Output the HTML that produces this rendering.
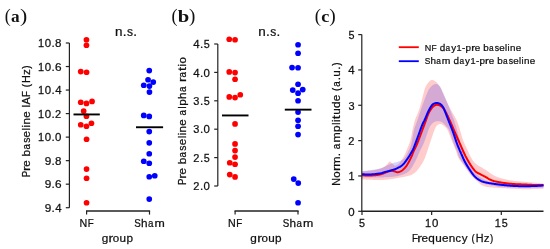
<!DOCTYPE html>
<html><head><meta charset="utf-8"><style>
html,body{margin:0;padding:0;background:#fff;}
svg{display:block;will-change:transform;}
</style></head><body>
<svg width="550" height="249" viewBox="0 0 550 249">
<rect width="550" height="249" fill="#fff"/>
<path d="M69.4,43.0 V207.71" stroke="#222222" stroke-width="1.2" fill="none"/>
<path d="M65.80,43.00 H69.4" stroke="#222222" stroke-width="1.2"/>
<g font-family='"Liberation Sans", sans-serif' font-size="11.5" fill="#111111" stroke="#111111" stroke-width="0.25"><text transform="translate(41.14,47.20) scale(0.950,1)" x="-3.36">1</text><text transform="translate(47.94,47.20) scale(0.995,1)" x="-3.20">0</text><text transform="translate(53.12,47.20) scale(1.021,1)" x="-1.60">.</text><text transform="translate(58.30,47.20) scale(1.005,1)" x="-3.20">8</text></g>
<path d="M65.80,66.53 H69.4" stroke="#222222" stroke-width="1.2"/>
<g font-family='"Liberation Sans", sans-serif' font-size="11.5" fill="#111111" stroke="#111111" stroke-width="0.25"><text transform="translate(41.14,70.73) scale(0.950,1)" x="-3.36">1</text><text transform="translate(47.94,70.73) scale(0.995,1)" x="-3.20">0</text><text transform="translate(53.12,70.73) scale(1.021,1)" x="-1.60">.</text><text transform="translate(58.34,70.73) scale(1.029,1)" x="-3.24">6</text></g>
<path d="M65.80,90.06 H69.4" stroke="#222222" stroke-width="1.2"/>
<g font-family='"Liberation Sans", sans-serif' font-size="11.5" fill="#111111" stroke="#111111" stroke-width="0.25"><text transform="translate(41.14,94.26) scale(0.950,1)" x="-3.36">1</text><text transform="translate(47.94,94.26) scale(0.995,1)" x="-3.20">0</text><text transform="translate(53.12,94.26) scale(1.021,1)" x="-1.60">.</text><text transform="translate(58.26,94.26) scale(0.995,1)" x="-3.16">4</text></g>
<path d="M65.80,113.59 H69.4" stroke="#222222" stroke-width="1.2"/>
<g font-family='"Liberation Sans", sans-serif' font-size="11.5" fill="#111111" stroke="#111111" stroke-width="0.25"><text transform="translate(41.14,117.79) scale(0.950,1)" x="-3.36">1</text><text transform="translate(47.94,117.79) scale(0.995,1)" x="-3.20">0</text><text transform="translate(53.12,117.79) scale(1.021,1)" x="-1.60">.</text><text transform="translate(58.15,117.79) scale(0.959,1)" x="-3.20">2</text></g>
<path d="M65.80,137.12 H69.4" stroke="#222222" stroke-width="1.2"/>
<g font-family='"Liberation Sans", sans-serif' font-size="11.5" fill="#111111" stroke="#111111" stroke-width="0.25"><text transform="translate(41.14,141.32) scale(0.950,1)" x="-3.36">1</text><text transform="translate(47.94,141.32) scale(0.995,1)" x="-3.20">0</text><text transform="translate(53.12,141.32) scale(1.021,1)" x="-1.60">.</text><text transform="translate(58.30,141.32) scale(0.995,1)" x="-3.20">0</text></g>
<path d="M65.80,160.65 H69.4" stroke="#222222" stroke-width="1.2"/>
<g font-family='"Liberation Sans", sans-serif' font-size="11.5" fill="#111111" stroke="#111111" stroke-width="0.25"><text transform="translate(47.91,164.85) scale(1.027,1)" x="-3.20">9</text><text transform="translate(53.12,164.85) scale(1.021,1)" x="-1.60">.</text><text transform="translate(58.30,164.85) scale(1.005,1)" x="-3.20">8</text></g>
<path d="M65.80,184.18 H69.4" stroke="#222222" stroke-width="1.2"/>
<g font-family='"Liberation Sans", sans-serif' font-size="11.5" fill="#111111" stroke="#111111" stroke-width="0.25"><text transform="translate(47.91,188.38) scale(1.027,1)" x="-3.20">9</text><text transform="translate(53.12,188.38) scale(1.021,1)" x="-1.60">.</text><text transform="translate(58.34,188.38) scale(1.029,1)" x="-3.24">6</text></g>
<path d="M65.80,207.71 H69.4" stroke="#222222" stroke-width="1.2"/>
<g font-family='"Liberation Sans", sans-serif' font-size="11.5" fill="#111111" stroke="#111111" stroke-width="0.25"><text transform="translate(47.91,211.91) scale(1.027,1)" x="-3.20">9</text><text transform="translate(53.12,211.91) scale(1.021,1)" x="-1.60">.</text><text transform="translate(58.26,211.91) scale(0.995,1)" x="-3.16">4</text></g>
<path d="M86.0,211.0 H150.1" stroke="#222222" stroke-width="1.4"/>
<path d="M86.6,211.0 V214.60" stroke="#222222" stroke-width="1.2"/>
<path d="M149.5,211.0 V214.60" stroke="#222222" stroke-width="1.2"/>
<g font-family='"Liberation Sans", sans-serif' font-size="11.5" fill="#111111" stroke="#111111" stroke-width="0.25"><text transform="translate(83.48,226.80) scale(0.932,1)" x="-4.16">N</text><text transform="translate(90.88,226.80) scale(0.850,1)" x="-3.75">F</text></g>
<g font-family='"Liberation Sans", sans-serif' font-size="11.5" fill="#111111" stroke="#111111" stroke-width="0.25"><text transform="translate(137.51,226.80) scale(0.850,1)" x="-3.83">S</text><text transform="translate(144.37,226.80) scale(1.024,1)" x="-3.22">h</text><text transform="translate(150.93,226.80) scale(0.850,1)" x="-3.44">a</text><text transform="translate(159.74,226.80) scale(1.075,1)" x="-4.79">m</text></g>
<g font-family='"Liberation Sans", sans-serif' font-size="11.5" fill="#111111" stroke="#111111" stroke-width="0.25"><text transform="translate(104.84,241.50) scale(1.025,1)" x="-3.07">g</text><text transform="translate(111.20,241.50) scale(1.209,1)" x="-2.20">r</text><text transform="translate(116.03,241.50) scale(1.003,1)" x="-3.20">o</text><text transform="translate(122.75,241.50) scale(1.017,1)" x="-3.19">u</text><text transform="translate(129.86,241.50) scale(1.026,1)" x="-3.33">p</text></g>
<g font-family='"Liberation Sans", sans-serif' font-size="11.5" fill="#111111" stroke="#111111" stroke-width="0.25"><text transform="translate(30.05,173.79) rotate(-90) scale(0.850,1)" x="-4.00">P</text><text transform="translate(30.05,168.34) rotate(-90) scale(1.209,1)" x="-2.20">r</text><text transform="translate(30.05,163.49) rotate(-90) scale(1.019,1)" x="-3.19">e</text><text transform="translate(30.05,153.07) rotate(-90) scale(1.026,1)" x="-3.33">b</text><text transform="translate(30.05,146.67) rotate(-90) scale(0.850,1)" x="-3.44">a</text><text transform="translate(30.05,140.32) rotate(-90) scale(0.904,1)" x="-2.83">s</text><text transform="translate(30.05,134.18) rotate(-90) scale(1.019,1)" x="-3.19">e</text><text transform="translate(30.05,129.34) rotate(-90) scale(0.964,1)" x="-1.28">l</text><text transform="translate(30.05,126.33) rotate(-90) scale(0.964,1)" x="-1.27">i</text><text transform="translate(30.05,121.35) rotate(-90) scale(1.017,1)" x="-3.21">n</text><text transform="translate(30.05,114.60) rotate(-90) scale(1.019,1)" x="-3.19">e</text><text transform="translate(30.05,106.22) rotate(-90) scale(0.998,1)" x="-1.60">I</text><text transform="translate(30.05,100.91) rotate(-90) scale(0.950,1)" x="-3.84">A</text><text transform="translate(30.05,93.86) rotate(-90) scale(0.850,1)" x="-3.75">F</text><text transform="translate(30.05,85.36) rotate(-90) scale(0.850,1)" x="-2.24">(</text><text transform="translate(30.05,79.20) rotate(-90) scale(0.939,1)" x="-4.16">H</text><text transform="translate(30.05,72.27) rotate(-90) scale(1.011,1)" x="-2.82">z</text><text transform="translate(30.05,67.34) rotate(-90) scale(0.850,1)" x="-1.59">)</text></g>
<g font-family='"Liberation Sans", sans-serif' font-size="13.2" fill="#111111" stroke="#111111" stroke-width="0.25"><text transform="translate(118.71,35.60) scale(1.021,1)" x="-3.68">n</text><text transform="translate(124.61,35.60) scale(1.025,1)" x="-1.83">.</text><text transform="translate(129.89,35.60) scale(0.908,1)" x="-3.25">s</text><text transform="translate(135.10,35.60) scale(1.025,1)" x="-1.83">.</text></g>
<circle cx="86.45" cy="39.75" r="2.85" fill="#ff0000"/>
<circle cx="86.45" cy="45.25" r="2.85" fill="#ff0000"/>
<circle cx="80.75" cy="71.55" r="2.85" fill="#ff0000"/>
<circle cx="86.55" cy="72.25" r="2.85" fill="#ff0000"/>
<circle cx="80.75" cy="102.25" r="2.85" fill="#ff0000"/>
<circle cx="86.45" cy="103.45" r="2.85" fill="#ff0000"/>
<circle cx="92.05" cy="101.45" r="2.85" fill="#ff0000"/>
<circle cx="83.65" cy="111.05" r="2.85" fill="#ff0000"/>
<circle cx="86.45" cy="116.25" r="2.85" fill="#ff0000"/>
<circle cx="80.75" cy="124.75" r="2.85" fill="#ff0000"/>
<circle cx="86.45" cy="126.25" r="2.85" fill="#ff0000"/>
<circle cx="91.45" cy="123.25" r="2.85" fill="#ff0000"/>
<circle cx="86.55" cy="139.25" r="2.85" fill="#ff0000"/>
<circle cx="86.55" cy="169.05" r="2.85" fill="#ff0000"/>
<circle cx="86.55" cy="178.25" r="2.85" fill="#ff0000"/>
<circle cx="86.55" cy="202.75" r="2.85" fill="#ff0000"/>
<circle cx="149.25" cy="70.55" r="2.85" fill="#0000ff"/>
<circle cx="148.05" cy="79.75" r="2.85" fill="#0000ff"/>
<circle cx="153.25" cy="82.05" r="2.85" fill="#0000ff"/>
<circle cx="143.75" cy="85.25" r="2.85" fill="#0000ff"/>
<circle cx="149.45" cy="86.05" r="2.85" fill="#0000ff"/>
<circle cx="149.45" cy="92.05" r="2.85" fill="#0000ff"/>
<circle cx="143.75" cy="115.45" r="2.85" fill="#0000ff"/>
<circle cx="149.25" cy="116.45" r="2.85" fill="#0000ff"/>
<circle cx="149.25" cy="131.55" r="2.85" fill="#0000ff"/>
<circle cx="149.25" cy="142.85" r="2.85" fill="#0000ff"/>
<circle cx="149.25" cy="153.75" r="2.85" fill="#0000ff"/>
<circle cx="143.75" cy="161.25" r="2.85" fill="#0000ff"/>
<circle cx="149.25" cy="163.25" r="2.85" fill="#0000ff"/>
<circle cx="149.25" cy="176.75" r="2.85" fill="#0000ff"/>
<circle cx="154.75" cy="175.75" r="2.85" fill="#0000ff"/>
<circle cx="149.25" cy="199.05" r="2.85" fill="#0000ff"/>
<path d="M73.5,114.45 H99.80" stroke="#000" stroke-width="1.9"/>
<path d="M136,127.25 H163.10" stroke="#000" stroke-width="1.9"/>
<path d="M217.8,44.0 V186.00" stroke="#222222" stroke-width="1.2" fill="none"/>
<path d="M214.20,44.00 H217.8" stroke="#222222" stroke-width="1.2"/>
<g font-family='"Liberation Sans", sans-serif' font-size="11.5" fill="#111111" stroke="#111111" stroke-width="0.25"><text transform="translate(196.36,48.20) scale(0.995,1)" x="-3.16">4</text><text transform="translate(201.57,48.20) scale(1.021,1)" x="-1.60">.</text><text transform="translate(206.69,48.20) scale(0.939,1)" x="-3.19">5</text></g>
<path d="M214.20,72.40 H217.8" stroke="#222222" stroke-width="1.2"/>
<g font-family='"Liberation Sans", sans-serif' font-size="11.5" fill="#111111" stroke="#111111" stroke-width="0.25"><text transform="translate(196.36,76.60) scale(0.995,1)" x="-3.16">4</text><text transform="translate(201.57,76.60) scale(1.021,1)" x="-1.60">.</text><text transform="translate(206.75,76.60) scale(0.995,1)" x="-3.20">0</text></g>
<path d="M214.20,100.80 H217.8" stroke="#222222" stroke-width="1.2"/>
<g font-family='"Liberation Sans", sans-serif' font-size="11.5" fill="#111111" stroke="#111111" stroke-width="0.25"><text transform="translate(196.38,105.00) scale(0.955,1)" x="-3.16">3</text><text transform="translate(201.57,105.00) scale(1.021,1)" x="-1.60">.</text><text transform="translate(206.69,105.00) scale(0.939,1)" x="-3.19">5</text></g>
<path d="M214.20,129.20 H217.8" stroke="#222222" stroke-width="1.2"/>
<g font-family='"Liberation Sans", sans-serif' font-size="11.5" fill="#111111" stroke="#111111" stroke-width="0.25"><text transform="translate(196.38,133.40) scale(0.955,1)" x="-3.16">3</text><text transform="translate(201.57,133.40) scale(1.021,1)" x="-1.60">.</text><text transform="translate(206.75,133.40) scale(0.995,1)" x="-3.20">0</text></g>
<path d="M214.20,157.60 H217.8" stroke="#222222" stroke-width="1.2"/>
<g font-family='"Liberation Sans", sans-serif' font-size="11.5" fill="#111111" stroke="#111111" stroke-width="0.25"><text transform="translate(196.25,161.80) scale(0.959,1)" x="-3.20">2</text><text transform="translate(201.57,161.80) scale(1.021,1)" x="-1.60">.</text><text transform="translate(206.69,161.80) scale(0.939,1)" x="-3.19">5</text></g>
<path d="M214.20,186.00 H217.8" stroke="#222222" stroke-width="1.2"/>
<g font-family='"Liberation Sans", sans-serif' font-size="11.5" fill="#111111" stroke="#111111" stroke-width="0.25"><text transform="translate(196.25,190.20) scale(0.959,1)" x="-3.20">2</text><text transform="translate(201.57,190.20) scale(1.021,1)" x="-1.60">.</text><text transform="translate(206.75,190.20) scale(0.995,1)" x="-3.20">0</text></g>
<path d="M234.5,211.0 H298.6" stroke="#222222" stroke-width="1.4"/>
<path d="M235.1,211.0 V214.60" stroke="#222222" stroke-width="1.2"/>
<path d="M298.0,211.0 V214.60" stroke="#222222" stroke-width="1.2"/>
<g font-family='"Liberation Sans", sans-serif' font-size="11.5" fill="#111111" stroke="#111111" stroke-width="0.25"><text transform="translate(231.98,226.80) scale(0.932,1)" x="-4.16">N</text><text transform="translate(239.38,226.80) scale(0.850,1)" x="-3.75">F</text></g>
<g font-family='"Liberation Sans", sans-serif' font-size="11.5" fill="#111111" stroke="#111111" stroke-width="0.25"><text transform="translate(286.01,226.80) scale(0.850,1)" x="-3.83">S</text><text transform="translate(292.87,226.80) scale(1.024,1)" x="-3.22">h</text><text transform="translate(299.43,226.80) scale(0.850,1)" x="-3.44">a</text><text transform="translate(308.24,226.80) scale(1.075,1)" x="-4.79">m</text></g>
<g font-family='"Liberation Sans", sans-serif' font-size="11.5" fill="#111111" stroke="#111111" stroke-width="0.25"><text transform="translate(253.49,241.50) scale(1.025,1)" x="-3.07">g</text><text transform="translate(259.85,241.50) scale(1.209,1)" x="-2.20">r</text><text transform="translate(264.68,241.50) scale(1.003,1)" x="-3.20">o</text><text transform="translate(271.40,241.50) scale(1.017,1)" x="-3.19">u</text><text transform="translate(278.51,241.50) scale(1.026,1)" x="-3.33">p</text></g>
<g font-family='"Liberation Sans", sans-serif' font-size="11.5" fill="#111111" stroke="#111111" stroke-width="0.25"><text transform="translate(185.80,181.60) rotate(-90) scale(0.850,1)" x="-4.00">P</text><text transform="translate(185.80,176.14) rotate(-90) scale(1.209,1)" x="-2.20">r</text><text transform="translate(185.80,171.29) rotate(-90) scale(1.019,1)" x="-3.19">e</text><text transform="translate(185.80,160.88) rotate(-90) scale(1.026,1)" x="-3.33">b</text><text transform="translate(185.80,154.47) rotate(-90) scale(0.850,1)" x="-3.44">a</text><text transform="translate(185.80,148.13) rotate(-90) scale(0.904,1)" x="-2.83">s</text><text transform="translate(185.80,141.98) rotate(-90) scale(1.019,1)" x="-3.19">e</text><text transform="translate(185.80,137.14) rotate(-90) scale(0.964,1)" x="-1.28">l</text><text transform="translate(185.80,134.13) rotate(-90) scale(0.964,1)" x="-1.27">i</text><text transform="translate(185.80,129.16) rotate(-90) scale(1.017,1)" x="-3.21">n</text><text transform="translate(185.80,122.40) rotate(-90) scale(1.019,1)" x="-3.19">e</text><text transform="translate(185.80,112.47) rotate(-90) scale(0.850,1)" x="-3.44">a</text><text transform="translate(185.80,107.47) rotate(-90) scale(0.964,1)" x="-1.28">l</text><text transform="translate(185.80,102.32) rotate(-90) scale(1.026,1)" x="-3.33">p</text><text transform="translate(185.80,95.60) rotate(-90) scale(1.024,1)" x="-3.22">h</text><text transform="translate(185.80,89.04) rotate(-90) scale(0.850,1)" x="-3.44">a</text><text transform="translate(185.80,79.38) rotate(-90) scale(1.209,1)" x="-2.20">r</text><text transform="translate(185.80,74.48) rotate(-90) scale(0.850,1)" x="-3.44">a</text><text transform="translate(185.80,68.85) rotate(-90) scale(1.250,1)" x="-1.64">t</text><text transform="translate(185.80,65.23) rotate(-90) scale(0.964,1)" x="-1.27">i</text><text transform="translate(185.80,60.40) rotate(-90) scale(1.003,1)" x="-3.20">o</text></g>
<g font-family='"Liberation Sans", sans-serif' font-size="13.2" fill="#111111" stroke="#111111" stroke-width="0.25"><text transform="translate(262.01,35.60) scale(1.021,1)" x="-3.68">n</text><text transform="translate(267.91,35.60) scale(1.025,1)" x="-1.83">.</text><text transform="translate(273.19,35.60) scale(0.908,1)" x="-3.25">s</text><text transform="translate(278.40,35.60) scale(1.025,1)" x="-1.83">.</text></g>
<circle cx="229.25" cy="39.25" r="2.85" fill="#ff0000"/>
<circle cx="235.05" cy="39.75" r="2.85" fill="#ff0000"/>
<circle cx="229.25" cy="71.95" r="2.85" fill="#ff0000"/>
<circle cx="235.05" cy="72.55" r="2.85" fill="#ff0000"/>
<circle cx="235.05" cy="79.25" r="2.85" fill="#ff0000"/>
<circle cx="229.25" cy="96.95" r="2.85" fill="#ff0000"/>
<circle cx="235.05" cy="97.55" r="2.85" fill="#ff0000"/>
<circle cx="240.25" cy="94.75" r="2.85" fill="#ff0000"/>
<circle cx="235.05" cy="123.95" r="2.85" fill="#ff0000"/>
<circle cx="235.05" cy="143.95" r="2.85" fill="#ff0000"/>
<circle cx="235.05" cy="150.55" r="2.85" fill="#ff0000"/>
<circle cx="235.05" cy="157.05" r="2.85" fill="#ff0000"/>
<circle cx="229.75" cy="162.75" r="2.85" fill="#ff0000"/>
<circle cx="235.05" cy="164.25" r="2.85" fill="#ff0000"/>
<circle cx="229.75" cy="174.55" r="2.85" fill="#ff0000"/>
<circle cx="235.05" cy="176.95" r="2.85" fill="#ff0000"/>
<circle cx="298.05" cy="44.75" r="2.85" fill="#0000ff"/>
<circle cx="298.05" cy="53.25" r="2.85" fill="#0000ff"/>
<circle cx="292.05" cy="67.55" r="2.85" fill="#0000ff"/>
<circle cx="298.05" cy="67.75" r="2.85" fill="#0000ff"/>
<circle cx="298.05" cy="84.25" r="2.85" fill="#0000ff"/>
<circle cx="292.75" cy="90.05" r="2.85" fill="#0000ff"/>
<circle cx="302.75" cy="89.55" r="2.85" fill="#0000ff"/>
<circle cx="298.05" cy="93.15" r="2.85" fill="#0000ff"/>
<circle cx="298.05" cy="100.75" r="2.85" fill="#0000ff"/>
<circle cx="298.05" cy="112.05" r="2.85" fill="#0000ff"/>
<circle cx="298.05" cy="120.25" r="2.85" fill="#0000ff"/>
<circle cx="298.05" cy="126.25" r="2.85" fill="#0000ff"/>
<circle cx="298.05" cy="134.55" r="2.85" fill="#0000ff"/>
<circle cx="293.75" cy="179.05" r="2.85" fill="#0000ff"/>
<circle cx="298.25" cy="183.05" r="2.85" fill="#0000ff"/>
<circle cx="298.05" cy="202.75" r="2.85" fill="#0000ff"/>
<path d="M222,115.45 H248.50" stroke="#000" stroke-width="1.9"/>
<path d="M284.8,109.65 H311.50" stroke="#000" stroke-width="1.9"/>
<text x="4.81" y="22.2" font-family='"Liberation Serif", serif' font-size="18.6" font-weight="normal" fill="#111" textLength="5.96" lengthAdjust="spacingAndGlyphs">(</text>
<text x="11.04" y="21.9" font-family='"Liberation Serif", serif' font-size="17.4" font-weight="bold" fill="#111" textLength="8.62" lengthAdjust="spacingAndGlyphs">a</text>
<text x="19.90" y="22.2" font-family='"Liberation Serif", serif' font-size="18.6" font-weight="normal" fill="#111" textLength="7.26" lengthAdjust="spacingAndGlyphs">)</text>
<text x="171.50" y="22.2" font-family='"Liberation Serif", serif' font-size="18.6" font-weight="normal" fill="#111" textLength="6.09" lengthAdjust="spacingAndGlyphs">(</text>
<text x="177.74" y="21.9" font-family='"Liberation Serif", serif' font-size="17.4" font-weight="bold" fill="#111" textLength="11.50" lengthAdjust="spacingAndGlyphs">b</text>
<text x="188.99" y="22.2" font-family='"Liberation Serif", serif' font-size="18.6" font-weight="normal" fill="#111" textLength="6.35" lengthAdjust="spacingAndGlyphs">)</text>
<text x="314.78" y="22.2" font-family='"Liberation Serif", serif' font-size="18.6" font-weight="normal" fill="#111" textLength="6.22" lengthAdjust="spacingAndGlyphs">(</text>
<text x="321.38" y="21.9" font-family='"Liberation Serif", serif' font-size="17.4" font-weight="bold" fill="#111" textLength="8.07" lengthAdjust="spacingAndGlyphs">c</text>
<text x="329.37" y="22.2" font-family='"Liberation Serif", serif' font-size="18.6" font-weight="normal" fill="#111" textLength="6.48" lengthAdjust="spacingAndGlyphs">)</text>
<polygon points="362.00,171.50 362.27,171.47 362.59,171.44 362.94,171.40 363.33,171.36 363.76,171.32 364.21,171.28 364.70,171.23 365.21,171.18 365.73,171.13 366.28,171.08 366.84,171.02 367.42,170.97 368.00,170.91 368.59,170.85 369.18,170.78 369.77,170.72 370.36,170.65 370.94,170.58 371.52,170.52 372.08,170.45 372.62,170.37 373.15,170.30 373.65,170.23 374.13,170.15 374.58,170.08 375.00,170.00 375.64,169.87 376.27,169.74 376.87,169.60 377.45,169.46 378.00,169.31 378.54,169.16 379.06,169.00 379.56,168.84 380.05,168.68 380.51,168.52 380.96,168.35 381.40,168.18 381.82,168.01 382.23,167.84 382.62,167.67 383.00,167.50 383.57,167.22 384.08,166.93 384.54,166.64 384.96,166.34 385.34,166.03 385.70,165.72 386.04,165.42 386.36,165.11 386.68,164.80 387.00,164.50 387.43,164.03 387.81,163.50 388.16,162.95 388.49,162.44 388.81,161.99 389.14,161.67 389.50,161.50 389.95,161.54 390.41,161.80 390.89,162.19 391.36,162.65 391.84,163.11 392.30,163.50 392.74,163.88 393.16,164.31 393.58,164.75 394.01,165.13 394.48,165.40 395.00,165.50 395.43,165.48 395.89,165.41 396.36,165.28 396.86,165.09 397.37,164.83 397.90,164.48 398.44,164.04 399.00,163.50 399.26,163.22 399.52,162.91 399.79,162.57 400.07,162.21 400.36,161.83 400.65,161.43 400.94,161.01 401.24,160.57 401.53,160.12 401.83,159.67 402.12,159.21 402.41,158.74 402.69,158.27 402.97,157.81 403.24,157.34 403.50,156.89 403.76,156.44 404.00,156.00 404.25,155.54 404.48,155.08 404.71,154.62 404.94,154.15 405.15,153.68 405.37,153.21 405.57,152.74 405.78,152.27 405.97,151.79 406.17,151.32 406.36,150.84 406.55,150.37 406.74,149.89 406.93,149.42 407.12,148.94 407.31,148.47 407.50,148.00 407.69,147.53 407.88,147.07 408.07,146.61 408.26,146.16 408.45,145.71 408.64,145.26 408.82,144.81 409.00,144.35 409.18,143.90 409.36,143.44 409.54,142.97 409.71,142.50 409.87,142.02 410.04,141.53 410.20,141.03 410.35,140.52 410.50,140.00 410.62,139.55 410.74,139.08 410.85,138.61 410.96,138.13 411.06,137.64 411.16,137.15 411.25,136.65 411.35,136.14 411.44,135.64 411.53,135.12 411.62,134.61 411.71,134.10 411.80,133.58 411.89,133.06 411.99,132.55 412.08,132.03 412.18,131.52 412.28,131.01 412.39,130.50 412.50,130.00 412.61,129.50 412.72,129.00 412.83,128.50 412.94,128.00 413.05,127.50 413.17,127.00 413.28,126.50 413.39,126.00 413.51,125.50 413.62,125.00 413.75,124.50 413.87,124.00 413.99,123.50 414.12,123.00 414.26,122.50 414.40,122.00 414.54,121.50 414.69,121.00 414.84,120.50 415.00,120.00 415.16,119.53 415.32,119.06 415.50,118.59 415.68,118.13 415.86,117.67 416.05,117.22 416.24,116.76 416.44,116.30 416.64,115.85 416.84,115.39 417.04,114.93 417.24,114.46 417.45,113.99 417.65,113.52 417.85,113.04 418.05,112.55 418.25,112.06 418.44,111.56 418.63,111.05 418.82,110.53 419.00,110.00 419.15,109.54 419.30,109.08 419.45,108.60 419.59,108.12 419.74,107.63 419.89,107.13 420.03,106.62 420.17,106.12 420.32,105.60 420.46,105.08 420.60,104.56 420.74,104.04 420.88,103.52 421.02,103.00 421.16,102.48 421.30,101.96 421.43,101.44 421.57,100.93 421.71,100.42 421.84,99.91 421.97,99.41 422.11,98.92 422.24,98.44 422.37,97.97 422.50,97.50 422.65,96.95 422.80,96.41 422.93,95.86 423.07,95.32 423.20,94.78 423.33,94.24 423.45,93.71 423.58,93.18 423.70,92.66 423.82,92.14 423.95,91.63 424.08,91.13 424.21,90.63 424.35,90.14 424.49,89.66 424.64,89.19 424.79,88.73 424.96,88.28 425.13,87.84 425.31,87.42 425.50,87.00 425.75,86.49 426.02,85.99 426.31,85.49 426.60,84.99 426.91,84.51 427.22,84.04 427.55,83.58 427.88,83.13 428.21,82.71 428.55,82.31 428.88,81.93 429.21,81.58 429.55,81.25 429.87,80.96 430.19,80.70 430.50,80.48 430.80,80.30 431.35,80.06 431.89,79.95 432.42,79.96 432.94,80.06 433.46,80.24 433.97,80.49 434.48,80.79 434.99,81.13 435.50,81.50 435.82,81.74 436.14,81.99 436.45,82.26 436.76,82.54 437.06,82.84 437.36,83.16 437.67,83.51 437.98,83.89 438.29,84.31 438.61,84.76 438.94,85.25 439.28,85.78 439.63,86.37 440.00,87.00 440.19,87.34 440.38,87.70 440.58,88.09 440.79,88.49 440.99,88.91 441.20,89.34 441.42,89.79 441.63,90.26 441.85,90.73 442.07,91.21 442.30,91.70 442.52,92.20 442.74,92.71 442.97,93.22 443.19,93.73 443.42,94.24 443.64,94.76 443.87,95.27 444.09,95.78 444.31,96.29 444.54,96.79 444.75,97.28 444.97,97.76 445.18,98.23 445.39,98.70 445.60,99.15 445.80,99.58 446.00,100.00 446.25,100.52 446.49,101.02 446.73,101.52 446.96,102.00 447.19,102.48 447.42,102.94 447.65,103.40 447.87,103.86 448.09,104.31 448.31,104.75 448.53,105.19 448.75,105.62 448.97,106.06 449.19,106.49 449.41,106.92 449.63,107.35 449.85,107.79 450.07,108.22 450.30,108.66 450.53,109.10 450.76,109.55 451.00,110.00 451.24,110.45 451.49,110.91 451.74,111.36 452.00,111.82 452.26,112.27 452.52,112.73 452.78,113.18 453.05,113.64 453.31,114.09 453.58,114.55 453.84,115.00 454.11,115.45 454.37,115.91 454.63,116.36 454.88,116.82 455.13,117.27 455.38,117.73 455.61,118.18 455.85,118.64 456.07,119.09 456.29,119.55 456.50,120.00 456.71,120.48 456.91,120.95 457.11,121.43 457.30,121.90 457.48,122.38 457.66,122.86 457.83,123.33 458.00,123.81 458.17,124.29 458.33,124.76 458.48,125.24 458.64,125.71 458.79,126.19 458.94,126.67 459.09,127.14 459.24,127.62 459.39,128.10 459.54,128.57 459.69,129.05 459.85,129.52 460.00,130.00 460.16,130.50 460.31,131.00 460.46,131.50 460.61,132.00 460.75,132.50 460.89,133.00 461.03,133.50 461.16,134.00 461.30,134.50 461.44,135.00 461.58,135.50 461.72,136.00 461.86,136.50 462.01,137.00 462.16,137.50 462.31,138.00 462.47,138.50 462.64,139.00 462.82,139.50 463.00,140.00 463.18,140.48 463.37,140.96 463.57,141.45 463.78,141.94 463.99,142.44 464.21,142.94 464.43,143.43 464.65,143.93 464.88,144.43 465.10,144.92 465.33,145.41 465.56,145.90 465.79,146.39 466.02,146.87 466.24,147.34 466.47,147.81 466.68,148.26 466.90,148.71 467.10,149.15 467.31,149.58 467.50,150.00 467.74,150.53 467.98,151.05 468.20,151.55 468.42,152.04 468.63,152.52 468.84,152.98 469.05,153.44 469.25,153.89 469.45,154.33 469.66,154.76 469.87,155.19 470.08,155.62 470.30,156.04 470.52,156.46 470.76,156.88 471.00,157.30 471.26,157.75 471.51,158.18 471.76,158.61 472.00,159.04 472.24,159.46 472.49,159.87 472.74,160.28 473.01,160.68 473.29,161.09 473.59,161.49 473.92,161.89 474.26,162.29 474.64,162.69 475.05,163.09 475.50,163.50 475.83,163.78 476.17,164.05 476.54,164.32 476.92,164.60 477.31,164.87 477.72,165.14 478.14,165.41 478.57,165.68 479.00,165.94 479.45,166.21 479.91,166.48 480.37,166.75 480.83,167.02 481.30,167.29 481.77,167.56 482.24,167.83 482.71,168.11 483.17,168.38 483.64,168.66 484.10,168.94 484.55,169.22 485.00,169.50 485.42,169.78 485.85,170.06 486.28,170.35 486.71,170.64 487.14,170.94 487.57,171.24 488.01,171.55 488.44,171.85 488.88,172.16 489.31,172.47 489.75,172.77 490.19,173.08 490.63,173.38 491.06,173.67 491.50,173.96 491.94,174.25 492.38,174.53 492.82,174.80 493.25,175.06 493.69,175.31 494.13,175.55 494.56,175.78 495.00,176.00 495.50,176.24 496.00,176.46 496.50,176.67 497.00,176.87 497.50,177.06 498.00,177.25 498.50,177.42 499.00,177.58 499.50,177.74 500.00,177.89 500.50,178.04 501.00,178.18 501.50,178.31 502.00,178.45 502.50,178.58 503.00,178.70 503.50,178.83 504.00,178.95 504.50,179.08 505.00,179.20 505.49,179.32 505.98,179.44 506.45,179.55 506.92,179.66 507.38,179.76 507.84,179.86 508.30,179.95 508.76,180.04 509.22,180.13 509.69,180.22 510.16,180.30 510.64,180.38 511.13,180.46 511.63,180.54 512.15,180.62 512.68,180.69 513.23,180.77 513.80,180.85 514.39,180.92 515.00,181.00 515.42,181.05 515.86,181.10 516.30,181.15 516.76,181.20 517.23,181.25 517.70,181.30 518.19,181.34 518.68,181.39 519.18,181.43 519.69,181.48 520.20,181.52 520.71,181.57 521.23,181.61 521.76,181.65 522.28,181.69 522.81,181.74 523.34,181.78 523.87,181.82 524.40,181.86 524.93,181.90 525.45,181.94 525.98,181.98 526.50,182.02 527.02,182.06 527.53,182.10 528.04,182.14 528.54,182.18 529.03,182.22 529.52,182.26 530.00,182.30 530.53,182.34 531.08,182.39 531.64,182.44 532.21,182.48 532.78,182.53 533.36,182.58 533.94,182.63 534.53,182.67 535.11,182.72 535.69,182.77 536.27,182.82 536.84,182.86 537.41,182.91 537.96,182.95 538.51,183.00 539.04,183.04 539.56,183.08 540.06,183.12 540.54,183.16 541.00,183.20 541.44,183.23 541.85,183.27 542.24,183.30 542.60,183.33 542.93,183.35 543.23,183.38 543.50,183.40 543.50,188.70 543.24,188.71 542.95,188.72 542.64,188.73 542.30,188.74 541.95,188.75 541.57,188.77 541.17,188.78 540.76,188.80 540.32,188.82 539.87,188.84 539.40,188.86 538.92,188.87 538.43,188.89 537.92,188.91 537.40,188.94 536.87,188.96 536.33,188.98 535.78,189.00 535.22,189.02 534.66,189.04 534.09,189.05 533.51,189.07 532.93,189.09 532.35,189.11 531.77,189.12 531.18,189.14 530.60,189.15 530.02,189.16 529.44,189.18 528.86,189.19 528.29,189.19 527.72,189.20 527.16,189.20 526.61,189.21 526.06,189.21 525.53,189.20 525.00,189.20 524.52,189.19 524.03,189.19 523.55,189.18 523.06,189.17 522.57,189.16 522.08,189.15 521.59,189.14 521.10,189.12 520.60,189.11 520.11,189.09 519.61,189.08 519.11,189.06 518.61,189.04 518.11,189.02 517.61,189.00 517.11,188.98 516.61,188.96 516.10,188.94 515.60,188.92 515.09,188.89 514.59,188.87 514.08,188.84 513.58,188.82 513.07,188.79 512.57,188.76 512.06,188.74 511.55,188.71 511.05,188.68 510.54,188.65 510.04,188.62 509.53,188.59 509.02,188.56 508.52,188.53 508.01,188.50 507.51,188.47 507.01,188.43 506.50,188.40 506.00,188.37 505.50,188.33 505.00,188.30 504.50,188.27 503.99,188.23 503.47,188.20 502.95,188.17 502.42,188.14 501.89,188.11 501.35,188.09 500.81,188.06 500.26,188.03 499.72,188.00 499.17,187.97 498.62,187.94 498.07,187.91 497.52,187.88 496.97,187.85 496.42,187.82 495.88,187.79 495.33,187.76 494.79,187.72 494.25,187.69 493.71,187.65 493.18,187.61 492.66,187.57 492.14,187.53 491.62,187.49 491.11,187.44 490.61,187.39 490.12,187.34 489.63,187.29 489.16,187.23 488.69,187.17 488.23,187.11 487.79,187.05 487.35,186.98 486.93,186.91 486.51,186.83 486.11,186.76 485.73,186.67 485.36,186.59 485.00,186.50 484.29,186.30 483.64,186.07 483.03,185.83 482.48,185.57 481.96,185.29 481.48,185.00 481.04,184.70 480.63,184.39 480.25,184.08 479.88,183.76 479.54,183.44 479.21,183.11 478.90,182.79 478.58,182.47 478.28,182.16 477.97,181.85 477.66,181.56 477.33,181.27 477.00,181.00 476.52,180.63 476.07,180.27 475.64,179.93 475.24,179.61 474.86,179.29 474.49,178.97 474.14,178.65 473.79,178.33 473.44,178.00 473.09,177.65 472.74,177.29 472.38,176.91 472.00,176.50 471.68,176.15 471.36,175.77 471.04,175.38 470.71,174.98 470.39,174.57 470.06,174.14 469.73,173.71 469.41,173.28 469.08,172.85 468.77,172.42 468.45,171.99 468.14,171.57 467.84,171.15 467.55,170.75 467.27,170.37 467.00,170.00 466.66,169.54 466.35,169.10 466.05,168.69 465.78,168.30 465.51,167.91 465.25,167.53 464.99,167.15 464.72,166.76 464.45,166.36 464.15,165.93 463.84,165.48 463.50,165.00 463.24,164.64 462.97,164.27 462.68,163.88 462.37,163.49 462.06,163.09 461.75,162.68 461.42,162.26 461.10,161.84 460.78,161.41 460.46,160.98 460.14,160.55 459.83,160.12 459.54,159.69 459.25,159.26 458.98,158.84 458.73,158.42 458.50,158.00 458.24,157.50 458.01,156.98 457.79,156.46 457.59,155.94 457.40,155.42 457.23,154.90 457.06,154.38 456.91,153.86 456.75,153.35 456.60,152.85 456.46,152.37 456.31,151.90 456.16,151.44 456.00,151.00 455.78,150.42 455.58,149.89 455.38,149.38 455.19,148.90 455.00,148.44 454.81,147.98 454.62,147.51 454.42,147.03 454.22,146.53 454.00,146.00 453.83,145.58 453.66,145.17 453.49,144.77 453.32,144.36 453.14,143.95 452.97,143.53 452.78,143.09 452.59,142.64 452.40,142.17 452.19,141.68 451.97,141.15 451.74,140.60 451.50,140.00 451.34,139.60 451.18,139.18 451.01,138.73 450.83,138.26 450.65,137.78 450.47,137.27 450.28,136.76 450.09,136.24 449.89,135.71 449.69,135.17 449.49,134.64 449.29,134.11 449.09,133.59 448.89,133.07 448.69,132.57 448.48,132.09 448.28,131.62 448.08,131.17 447.89,130.75 447.69,130.36 447.50,130.00 447.17,129.42 446.83,128.90 446.49,128.42 446.15,127.98 445.81,127.58 445.47,127.22 445.13,126.88 444.80,126.57 444.46,126.29 444.14,126.01 443.82,125.75 443.50,125.50 442.97,125.10 442.45,124.77 441.94,124.49 441.44,124.28 440.95,124.12 440.47,124.03 440.00,124.00 439.47,124.04 438.94,124.17 438.44,124.38 437.94,124.67 437.47,125.04 437.00,125.50 436.73,125.80 436.48,126.12 436.24,126.46 436.01,126.82 435.78,127.22 435.55,127.66 435.31,128.15 435.06,128.70 434.79,129.31 434.50,130.00 434.35,130.36 434.20,130.75 434.04,131.17 433.87,131.62 433.70,132.09 433.53,132.57 433.35,133.07 433.17,133.59 432.99,134.11 432.81,134.64 432.63,135.17 432.45,135.71 432.27,136.24 432.09,136.76 431.92,137.27 431.75,137.78 431.59,138.26 431.43,138.73 431.28,139.18 431.14,139.60 431.00,140.00 430.78,140.63 430.59,141.20 430.42,141.71 430.26,142.19 430.11,142.63 429.97,143.06 429.83,143.49 429.69,143.93 429.54,144.38 429.37,144.87 429.20,145.41 429.00,146.00 428.86,146.43 428.71,146.88 428.56,147.35 428.40,147.84 428.24,148.34 428.07,148.85 427.91,149.37 427.74,149.90 427.56,150.44 427.39,150.97 427.21,151.51 427.04,152.04 426.86,152.56 426.69,153.08 426.51,153.58 426.34,154.07 426.17,154.55 426.00,155.00 425.81,155.52 425.62,156.03 425.44,156.51 425.27,156.98 425.09,157.44 424.92,157.90 424.75,158.34 424.57,158.78 424.38,159.22 424.19,159.67 423.98,160.11 423.76,160.57 423.53,161.03 423.27,161.51 423.00,162.00 422.77,162.40 422.52,162.82 422.26,163.25 421.99,163.69 421.71,164.14 421.41,164.59 421.11,165.05 420.81,165.50 420.50,165.96 420.19,166.41 419.87,166.86 419.56,167.30 419.25,167.74 418.94,168.15 418.64,168.56 418.34,168.95 418.05,169.32 417.77,169.67 417.50,170.00 417.09,170.48 416.70,170.92 416.32,171.33 415.94,171.70 415.58,172.05 415.22,172.38 414.86,172.68 414.50,172.96 414.14,173.23 413.77,173.50 413.39,173.75 413.00,174.00 412.53,174.28 412.08,174.53 411.63,174.76 411.18,174.96 410.72,175.15 410.24,175.32 409.74,175.49 409.20,175.66 408.62,175.83 408.00,176.00 407.59,176.11 407.16,176.22 406.71,176.32 406.26,176.43 405.79,176.53 405.31,176.62 404.82,176.72 404.31,176.82 403.80,176.91 403.28,177.01 402.75,177.11 402.21,177.20 401.67,177.30 401.12,177.40 400.56,177.50 400.00,177.60 399.55,177.68 399.08,177.77 398.61,177.86 398.13,177.95 397.64,178.04 397.15,178.13 396.65,178.23 396.14,178.32 395.64,178.41 395.12,178.51 394.61,178.60 394.10,178.69 393.58,178.77 393.06,178.86 392.55,178.94 392.03,179.02 391.52,179.10 391.01,179.17 390.50,179.24 390.00,179.30 389.51,179.36 389.04,179.42 388.58,179.47 388.13,179.52 387.69,179.57 387.25,179.62 386.82,179.67 386.38,179.71 385.95,179.75 385.50,179.79 385.04,179.82 384.58,179.85 384.09,179.88 383.59,179.91 383.06,179.93 382.51,179.95 381.93,179.97 381.32,179.98 380.68,179.99 380.00,180.00 379.60,180.00 379.17,180.00 378.72,180.00 378.25,179.99 377.76,179.99 377.25,179.98 376.73,179.97 376.19,179.96 375.64,179.95 375.08,179.93 374.51,179.92 373.93,179.90 373.34,179.89 372.75,179.87 372.16,179.85 371.56,179.83 370.97,179.81 370.38,179.79 369.79,179.77 369.20,179.75 368.63,179.73 368.06,179.71 367.51,179.69 366.96,179.67 366.43,179.65 365.92,179.64 365.42,179.62 364.94,179.60 364.49,179.58 364.05,179.57 363.64,179.55 363.25,179.54 362.90,179.53 362.57,179.52 362.27,179.51 362.00,179.50" fill="rgba(255,0,0,0.2)" stroke="none"/>
<polygon points="362.00,171.20 362.27,171.16 362.57,171.12 362.90,171.08 363.25,171.03 363.64,170.98 364.05,170.93 364.49,170.87 364.94,170.82 365.42,170.76 365.92,170.70 366.43,170.63 366.96,170.57 367.51,170.50 368.06,170.43 368.63,170.36 369.20,170.28 369.79,170.21 370.38,170.13 370.97,170.05 371.56,169.97 372.16,169.89 372.75,169.81 373.34,169.72 373.93,169.63 374.51,169.55 375.08,169.46 375.64,169.36 376.19,169.27 376.73,169.18 377.25,169.09 377.76,168.99 378.25,168.89 378.72,168.80 379.17,168.70 379.60,168.60 380.00,168.50 380.65,168.32 381.26,168.14 381.85,167.94 382.40,167.73 382.93,167.52 383.44,167.30 383.93,167.08 384.39,166.85 384.85,166.62 385.28,166.39 385.71,166.15 386.13,165.92 386.55,165.69 386.96,165.46 387.38,165.23 387.79,165.01 388.21,164.79 388.64,164.58 389.08,164.38 389.53,164.18 390.00,164.00 390.51,163.82 391.02,163.64 391.55,163.47 392.08,163.31 392.62,163.16 393.16,163.01 393.70,162.86 394.24,162.72 394.78,162.58 395.31,162.44 395.84,162.30 396.36,162.16 396.87,162.03 397.37,161.89 397.85,161.75 398.32,161.61 398.77,161.46 399.20,161.31 399.61,161.16 400.00,161.00 400.60,160.73 401.15,160.47 401.65,160.21 402.11,159.94 402.54,159.68 402.94,159.41 403.31,159.13 403.67,158.83 404.01,158.53 404.34,158.20 404.67,157.86 405.00,157.50 405.32,157.12 405.62,156.72 405.89,156.30 406.15,155.87 406.39,155.43 406.62,154.97 406.85,154.50 407.07,154.02 407.30,153.53 407.52,153.03 407.76,152.52 408.00,152.00 408.20,151.59 408.40,151.20 408.60,150.82 408.80,150.45 409.00,150.07 409.20,149.69 409.40,149.30 409.60,148.88 409.80,148.45 410.00,147.98 410.20,147.48 410.40,146.94 410.60,146.35 410.80,145.70 411.00,145.00 411.10,144.62 411.20,144.22 411.30,143.80 411.40,143.36 411.49,142.91 411.59,142.43 411.69,141.94 411.79,141.44 411.88,140.93 411.98,140.41 412.08,139.88 412.18,139.34 412.27,138.79 412.37,138.24 412.47,137.69 412.57,137.13 412.67,136.58 412.76,136.02 412.86,135.47 412.96,134.93 413.06,134.38 413.16,133.85 413.27,133.32 413.37,132.81 413.47,132.30 413.57,131.81 413.68,131.33 413.79,130.87 413.89,130.43 414.00,130.00 414.16,129.42 414.31,128.86 414.47,128.33 414.63,127.81 414.79,127.32 414.95,126.84 415.11,126.37 415.27,125.92 415.44,125.47 415.60,125.03 415.77,124.60 415.94,124.16 416.11,123.73 416.28,123.30 416.45,122.86 416.62,122.41 416.79,121.96 416.97,121.49 417.15,121.01 417.32,120.51 417.50,120.00 417.65,119.56 417.80,119.11 417.95,118.66 418.10,118.20 418.26,117.74 418.41,117.28 418.56,116.81 418.72,116.34 418.87,115.87 419.03,115.39 419.18,114.91 419.34,114.43 419.50,113.94 419.66,113.46 419.82,112.97 419.98,112.48 420.14,111.98 420.31,111.49 420.47,110.99 420.64,110.50 420.81,110.00 420.98,109.50 421.15,109.00 421.32,108.50 421.50,108.00 421.66,107.53 421.83,107.05 422.00,106.57 422.18,106.07 422.36,105.57 422.53,105.07 422.71,104.56 422.90,104.04 423.08,103.53 423.27,103.01 423.45,102.49 423.64,101.97 423.83,101.46 424.01,100.94 424.20,100.43 424.38,99.93 424.57,99.43 424.75,98.94 424.93,98.46 425.11,97.98 425.29,97.52 425.47,97.06 425.64,96.62 425.81,96.20 425.98,95.78 426.14,95.38 426.30,95.00 426.56,94.38 426.80,93.80 427.04,93.24 427.26,92.71 427.48,92.20 427.70,91.72 427.91,91.26 428.12,90.82 428.33,90.40 428.54,89.99 428.76,89.60 428.99,89.22 429.22,88.85 429.47,88.49 429.73,88.14 430.00,87.80 430.39,87.35 430.80,86.91 431.23,86.49 431.67,86.08 432.13,85.70 432.59,85.35 433.05,85.03 433.52,84.75 433.98,84.51 434.43,84.32 434.87,84.18 435.30,84.10 435.80,84.07 436.29,84.09 436.78,84.18 437.26,84.33 437.73,84.54 438.20,84.81 438.66,85.14 439.11,85.53 439.56,85.99 440.00,86.50 440.24,86.82 440.47,87.16 440.70,87.52 440.92,87.91 441.13,88.32 441.35,88.75 441.56,89.20 441.77,89.67 441.98,90.15 442.19,90.65 442.40,91.16 442.62,91.68 442.84,92.22 443.06,92.76 443.28,93.31 443.52,93.87 443.75,94.43 444.00,95.00 444.18,95.40 444.36,95.82 444.54,96.25 444.73,96.69 444.93,97.15 445.13,97.61 445.33,98.09 445.53,98.57 445.74,99.05 445.94,99.54 446.15,100.04 446.36,100.53 446.56,101.03 446.77,101.53 446.97,102.02 447.18,102.52 447.38,103.01 447.58,103.49 447.77,103.96 447.96,104.43 448.15,104.89 448.33,105.34 448.51,105.78 448.68,106.20 448.84,106.61 449.00,107.00 449.23,107.58 449.45,108.14 449.66,108.69 449.86,109.22 450.06,109.74 450.25,110.24 450.43,110.73 450.60,111.20 450.77,111.67 450.94,112.12 451.10,112.56 451.25,112.99 451.41,113.41 451.56,113.82 451.71,114.22 451.85,114.61 452.00,115.00 452.24,115.60 452.45,116.11 452.64,116.56 452.82,116.98 453.00,117.38 453.18,117.78 453.36,118.23 453.55,118.73 453.76,119.31 454.00,120.00 454.13,120.39 454.26,120.80 454.40,121.23 454.54,121.68 454.69,122.15 454.84,122.63 455.00,123.13 455.15,123.64 455.31,124.16 455.47,124.69 455.63,125.22 455.79,125.76 455.95,126.30 456.11,126.84 456.26,127.38 456.42,127.92 456.57,128.45 456.72,128.98 456.86,129.49 457.00,130.00 457.14,130.50 457.27,131.01 457.41,131.53 457.54,132.05 457.67,132.57 457.80,133.09 457.93,133.62 458.06,134.14 458.19,134.67 458.31,135.19 458.44,135.70 458.56,136.22 458.68,136.72 458.80,137.22 458.92,137.71 459.04,138.19 459.16,138.66 459.27,139.12 459.39,139.57 459.50,140.00 459.65,140.59 459.80,141.13 459.93,141.64 460.06,142.13 460.19,142.60 460.31,143.05 460.44,143.50 460.56,143.95 460.70,144.40 460.83,144.87 460.98,145.36 461.14,145.87 461.31,146.41 461.50,147.00 461.63,147.41 461.77,147.84 461.91,148.28 462.05,148.73 462.20,149.20 462.35,149.67 462.50,150.15 462.66,150.64 462.82,151.13 462.98,151.63 463.15,152.13 463.32,152.63 463.49,153.13 463.67,153.63 463.85,154.13 464.03,154.62 464.22,155.11 464.41,155.60 464.60,156.07 464.80,156.54 465.00,157.00 465.21,157.47 465.43,157.94 465.66,158.41 465.89,158.88 466.12,159.34 466.36,159.81 466.60,160.26 466.84,160.72 467.09,161.17 467.34,161.62 467.60,162.07 467.86,162.52 468.12,162.96 468.38,163.41 468.64,163.84 468.91,164.28 469.18,164.71 469.45,165.15 469.73,165.57 470.00,166.00 470.27,166.42 470.55,166.85 470.82,167.27 471.09,167.70 471.36,168.12 471.63,168.54 471.91,168.95 472.18,169.37 472.46,169.78 472.75,170.19 473.04,170.59 473.34,170.99 473.64,171.39 473.95,171.78 474.27,172.16 474.59,172.54 474.93,172.92 475.27,173.29 475.63,173.65 476.00,174.00 476.36,174.33 476.74,174.66 477.12,174.99 477.51,175.32 477.91,175.64 478.32,175.96 478.74,176.28 479.16,176.59 479.59,176.90 480.03,177.20 480.47,177.49 480.92,177.78 481.36,178.06 481.81,178.33 482.27,178.60 482.72,178.86 483.18,179.10 483.64,179.34 484.09,179.57 484.55,179.79 485.00,180.00 485.47,180.21 485.91,180.40 486.35,180.57 486.78,180.74 487.20,180.89 487.61,181.04 488.03,181.17 488.45,181.30 488.88,181.42 489.31,181.53 489.76,181.64 490.23,181.74 490.72,181.84 491.23,181.93 491.77,182.03 492.34,182.12 492.95,182.21 493.59,182.31 494.27,182.40 495.00,182.50 495.38,182.55 495.76,182.60 496.16,182.65 496.56,182.70 496.96,182.75 497.38,182.79 497.80,182.84 498.22,182.89 498.66,182.93 499.10,182.98 499.54,183.03 500.00,183.07 500.46,183.12 500.92,183.16 501.39,183.20 501.87,183.24 502.36,183.29 502.85,183.33 503.34,183.37 503.84,183.41 504.35,183.44 504.86,183.48 505.38,183.52 505.91,183.56 506.44,183.59 506.97,183.63 507.51,183.66 508.06,183.69 508.61,183.72 509.17,183.75 509.73,183.78 510.30,183.81 510.87,183.84 511.44,183.87 512.02,183.89 512.61,183.92 513.20,183.94 513.80,183.96 514.40,183.98 515.00,184.00 515.43,184.01 515.88,184.02 516.34,184.04 516.81,184.05 517.29,184.05 517.78,184.06 518.29,184.07 518.80,184.08 519.32,184.08 519.85,184.09 520.39,184.09 520.94,184.10 521.49,184.10 522.05,184.10 522.62,184.11 523.19,184.11 523.77,184.11 524.34,184.11 524.93,184.11 525.51,184.11 526.10,184.11 526.69,184.11 527.27,184.11 527.86,184.11 528.45,184.10 529.04,184.10 529.63,184.10 530.21,184.10 530.79,184.09 531.37,184.09 531.94,184.08 532.51,184.08 533.07,184.08 533.63,184.07 534.18,184.07 534.73,184.06 535.27,184.06 535.80,184.06 536.32,184.05 536.83,184.05 537.33,184.04 537.82,184.04 538.30,184.03 538.77,184.03 539.22,184.03 539.66,184.02 540.09,184.02 540.51,184.02 540.91,184.01 541.29,184.01 541.66,184.01 542.01,184.01 542.35,184.00 542.66,184.00 542.96,184.00 543.24,184.00 543.50,184.00 543.50,187.80 543.24,187.80 542.96,187.79 542.67,187.79 542.36,187.79 542.04,187.78 541.70,187.78 541.34,187.78 540.97,187.77 540.58,187.77 540.18,187.77 539.77,187.76 539.35,187.76 538.91,187.75 538.46,187.75 538.00,187.75 537.52,187.74 537.04,187.74 536.55,187.73 536.04,187.73 535.53,187.73 535.01,187.72 534.48,187.72 533.94,187.71 533.39,187.71 532.84,187.70 532.28,187.70 531.71,187.69 531.14,187.69 530.56,187.68 529.97,187.68 529.39,187.67 528.79,187.67 528.20,187.66 527.60,187.66 527.00,187.65 526.39,187.65 525.79,187.64 525.18,187.63 524.57,187.63 523.96,187.62 523.35,187.62 522.74,187.61 522.13,187.60 521.53,187.60 520.92,187.59 520.32,187.58 519.72,187.58 519.12,187.57 518.52,187.56 517.93,187.55 517.34,187.55 516.76,187.54 516.18,187.53 515.61,187.52 515.05,187.52 514.49,187.51 513.93,187.50 513.39,187.49 512.85,187.48 512.32,187.47 511.80,187.46 511.29,187.46 510.79,187.45 510.29,187.44 509.81,187.43 509.34,187.42 508.88,187.41 508.43,187.40 508.00,187.39 507.57,187.38 507.16,187.37 506.77,187.36 506.38,187.35 506.02,187.33 505.66,187.32 505.32,187.31 505.00,187.30 503.86,187.25 502.85,187.21 501.96,187.16 501.18,187.10 500.50,187.05 499.91,186.99 499.39,186.93 498.95,186.87 498.56,186.81 498.22,186.74 497.91,186.68 497.63,186.61 497.37,186.54 497.10,186.47 496.83,186.39 496.54,186.32 496.23,186.24 495.87,186.16 495.47,186.08 495.00,186.00 494.50,185.92 493.99,185.84 493.47,185.75 492.95,185.67 492.43,185.58 491.91,185.50 491.38,185.41 490.86,185.32 490.33,185.23 489.81,185.14 489.30,185.04 488.78,184.94 488.28,184.84 487.78,184.73 487.29,184.62 486.81,184.51 486.34,184.39 485.88,184.26 485.43,184.13 485.00,184.00 484.44,183.81 483.90,183.62 483.38,183.41 482.87,183.20 482.37,182.98 481.89,182.76 481.42,182.52 480.96,182.29 480.51,182.04 480.07,181.80 479.65,181.54 479.22,181.29 478.81,181.03 478.40,180.77 478.00,180.50 477.55,180.19 477.12,179.88 476.71,179.56 476.31,179.24 475.93,178.91 475.56,178.58 475.19,178.23 474.83,177.89 474.47,177.53 474.11,177.16 473.75,176.78 473.38,176.40 473.00,176.00 472.66,175.64 472.32,175.27 471.98,174.88 471.63,174.48 471.28,174.07 470.93,173.66 470.58,173.24 470.23,172.82 469.89,172.40 469.56,171.98 469.23,171.57 468.90,171.16 468.59,170.76 468.29,170.37 468.00,170.00 467.66,169.55 467.35,169.13 467.05,168.73 466.78,168.33 466.51,167.95 466.25,167.56 465.99,167.17 465.72,166.78 465.45,166.37 465.15,165.94 464.84,165.48 464.50,165.00 464.24,164.64 463.97,164.27 463.68,163.88 463.37,163.49 463.06,163.09 462.75,162.68 462.42,162.26 462.10,161.84 461.78,161.41 461.46,160.98 461.14,160.55 460.83,160.12 460.54,159.69 460.25,159.26 459.98,158.84 459.73,158.42 459.50,158.00 459.24,157.49 459.01,156.97 458.79,156.45 458.59,155.91 458.40,155.38 458.23,154.84 458.06,154.31 457.91,153.79 457.75,153.28 457.60,152.78 457.46,152.30 457.31,151.84 457.16,151.41 457.00,151.00 456.73,150.38 456.48,149.86 456.24,149.41 456.00,149.00 455.76,148.59 455.52,148.14 455.27,147.62 455.00,147.00 454.84,146.60 454.68,146.18 454.52,145.75 454.35,145.31 454.19,144.84 454.02,144.37 453.84,143.88 453.67,143.37 453.49,142.84 453.30,142.31 453.11,141.75 452.91,141.18 452.71,140.60 452.50,140.00 452.35,139.58 452.20,139.14 452.05,138.68 451.89,138.19 451.72,137.70 451.56,137.19 451.39,136.67 451.22,136.14 451.04,135.61 450.87,135.08 450.69,134.55 450.52,134.02 450.34,133.51 450.17,133.00 449.99,132.51 449.82,132.03 449.65,131.57 449.48,131.14 449.32,130.73 449.16,130.35 449.00,130.00 448.68,129.35 448.38,128.81 448.08,128.34 447.79,127.94 447.50,127.59 447.21,127.28 446.92,126.97 446.62,126.67 446.32,126.35 446.00,126.00 445.64,125.58 445.27,125.15 444.89,124.71 444.51,124.29 444.12,123.88 443.72,123.49 443.32,123.12 442.91,122.79 442.50,122.50 442.02,122.22 441.54,121.97 441.04,121.76 440.53,121.58 440.02,121.44 439.51,121.33 439.00,121.25 438.50,121.20 438.00,121.18 437.49,121.20 436.98,121.25 436.47,121.33 435.96,121.45 435.46,121.60 434.98,121.78 434.50,122.00 434.08,122.23 433.67,122.48 433.26,122.76 432.86,123.07 432.46,123.41 432.07,123.77 431.70,124.16 431.34,124.57 431.00,125.00 430.74,125.36 430.50,125.72 430.27,126.08 430.06,126.46 429.85,126.86 429.65,127.28 429.44,127.73 429.23,128.22 429.00,128.76 428.76,129.35 428.50,130.00 428.35,130.37 428.20,130.78 428.04,131.21 427.87,131.67 427.70,132.14 427.53,132.64 427.35,133.15 427.17,133.67 426.99,134.20 426.81,134.73 426.63,135.27 426.45,135.80 426.27,136.33 426.09,136.85 425.92,137.36 425.75,137.86 425.59,138.33 425.43,138.79 425.28,139.22 425.14,139.63 425.00,140.00 424.75,140.69 424.53,141.29 424.34,141.80 424.16,142.26 424.00,142.69 423.84,143.10 423.66,143.51 423.47,143.95 423.25,144.44 423.00,145.00 422.81,145.41 422.61,145.83 422.40,146.26 422.17,146.70 421.94,147.15 421.71,147.61 421.47,148.08 421.22,148.55 420.97,149.03 420.72,149.52 420.47,150.01 420.22,150.50 419.98,151.00 419.74,151.50 419.50,152.00 419.30,152.44 419.09,152.90 418.90,153.35 418.70,153.81 418.50,154.28 418.31,154.75 418.11,155.22 417.91,155.70 417.71,156.18 417.51,156.66 417.31,157.14 417.10,157.62 416.89,158.10 416.68,158.58 416.46,159.05 416.23,159.53 416.00,160.00 415.77,160.45 415.54,160.91 415.30,161.38 415.05,161.85 414.79,162.33 414.54,162.81 414.28,163.30 414.01,163.78 413.75,164.25 413.49,164.72 413.22,165.18 412.96,165.63 412.71,166.07 412.45,166.49 412.20,166.90 411.96,167.29 411.73,167.65 411.50,168.00 411.12,168.57 410.76,169.08 410.42,169.54 410.10,169.96 409.78,170.34 409.46,170.70 409.13,171.04 408.78,171.36 408.41,171.68 408.00,172.00 407.61,172.29 407.22,172.55 406.83,172.80 406.42,173.04 406.00,173.27 405.56,173.48 405.10,173.69 404.62,173.89 404.11,174.10 403.57,174.30 403.00,174.50 402.60,174.64 402.19,174.78 401.79,174.92 401.38,175.06 400.96,175.20 400.53,175.33 400.08,175.46 399.62,175.59 399.15,175.72 398.64,175.85 398.12,175.97 397.56,176.08 396.98,176.19 396.36,176.30 395.70,176.40 395.00,176.50 394.61,176.55 394.21,176.60 393.80,176.65 393.37,176.69 392.94,176.74 392.50,176.78 392.04,176.82 391.58,176.86 391.11,176.91 390.63,176.94 390.14,176.98 389.65,177.02 389.15,177.06 388.64,177.09 388.12,177.12 387.61,177.16 387.08,177.19 386.55,177.22 386.02,177.25 385.48,177.28 384.94,177.31 384.40,177.33 383.85,177.36 383.30,177.38 382.75,177.40 382.20,177.42 381.65,177.44 381.10,177.46 380.55,177.48 380.00,177.50 379.53,177.51 379.05,177.52 378.55,177.54 378.03,177.54 377.50,177.55 376.97,177.56 376.42,177.56 375.86,177.57 375.29,177.57 374.72,177.57 374.14,177.57 373.56,177.57 372.97,177.57 372.39,177.57 371.80,177.57 371.22,177.57 370.64,177.57 370.06,177.56 369.49,177.56 368.93,177.55 368.38,177.55 367.83,177.55 367.30,177.54 366.78,177.54 366.27,177.53 365.78,177.53 365.30,177.52 364.85,177.52 364.41,177.52 363.99,177.51 363.60,177.51 363.23,177.51 362.88,177.50 362.56,177.50 362.26,177.50 362.00,177.50" fill="rgba(0,0,255,0.17)" stroke="none"/>
<polyline points="362.00,175.20 362.28,175.21 362.60,175.23 362.98,175.26 363.39,175.28 363.84,175.32 364.33,175.35 364.84,175.38 365.38,175.41 365.93,175.44 366.50,175.47 367.08,175.49 367.67,175.51 368.26,175.52 368.85,175.52 369.43,175.52 370.00,175.50 370.46,175.48 370.93,175.46 371.41,175.44 371.90,175.41 372.41,175.39 372.92,175.36 373.43,175.32 373.95,175.28 374.48,175.24 375.00,175.20 375.52,175.15 376.05,175.10 376.57,175.04 377.08,174.98 377.59,174.91 378.10,174.84 378.59,174.77 379.07,174.68 379.54,174.59 380.00,174.50 380.53,174.38 381.06,174.23 381.58,174.08 382.10,173.90 382.62,173.72 383.13,173.53 383.64,173.34 384.13,173.14 384.62,172.94 385.09,172.74 385.55,172.54 386.00,172.36 386.44,172.18 386.85,172.01 387.25,171.86 387.64,171.72 388.00,171.60 388.70,171.39 389.30,171.22 389.84,171.08 390.31,170.98 390.75,170.90 391.16,170.85 391.58,170.81 392.00,170.80 392.56,170.83 393.07,170.92 393.56,171.06 394.04,171.21 394.51,171.37 395.00,171.50 395.49,171.64 395.96,171.82 396.44,172.00 396.93,172.14 397.44,172.22 398.00,172.20 398.45,172.12 398.93,172.00 399.43,171.84 399.94,171.64 400.46,171.41 400.98,171.14 401.49,170.84 402.00,170.50 402.37,170.23 402.74,169.93 403.12,169.60 403.50,169.26 403.87,168.89 404.25,168.52 404.62,168.12 404.98,167.73 405.33,167.32 405.67,166.91 406.00,166.50 406.31,166.08 406.61,165.65 406.90,165.21 407.19,164.76 407.46,164.29 407.73,163.83 407.99,163.36 408.24,162.89 408.50,162.42 408.75,161.96 409.00,161.50 409.25,161.05 409.49,160.59 409.73,160.14 409.97,159.68 410.20,159.23 410.43,158.77 410.65,158.32 410.87,157.86 411.08,157.41 411.29,156.95 411.50,156.50 411.71,156.01 411.91,155.53 412.10,155.06 412.27,154.60 412.45,154.12 412.63,153.64 412.82,153.15 413.02,152.63 413.25,152.08 413.50,151.50 413.68,151.10 413.87,150.69 414.07,150.27 414.28,149.84 414.49,149.41 414.71,148.96 414.93,148.51 415.16,148.05 415.39,147.58 415.62,147.09 415.86,146.60 416.09,146.09 416.33,145.57 416.57,145.04 416.80,144.50 416.97,144.09 417.15,143.67 417.32,143.25 417.49,142.82 417.67,142.39 417.84,141.96 418.01,141.52 418.19,141.07 418.37,140.62 418.54,140.16 418.72,139.69 418.91,139.21 419.09,138.72 419.28,138.22 419.47,137.71 419.67,137.20 419.87,136.67 420.08,136.12 420.29,135.57 420.50,135.00 420.66,134.58 420.82,134.15 420.99,133.70 421.16,133.23 421.34,132.76 421.52,132.27 421.71,131.78 421.89,131.27 422.08,130.76 422.27,130.25 422.46,129.73 422.66,129.21 422.85,128.68 423.04,128.16 423.24,127.63 423.43,127.11 423.62,126.59 423.81,126.08 424.00,125.57 424.18,125.07 424.36,124.58 424.54,124.10 424.71,123.63 424.88,123.17 425.04,122.73 425.20,122.30 425.35,121.89 425.50,121.50 425.73,120.88 425.94,120.29 426.15,119.72 426.34,119.18 426.53,118.65 426.71,118.15 426.88,117.66 427.04,117.20 427.21,116.74 427.36,116.31 427.52,115.88 427.68,115.47 427.84,115.06 428.00,114.66 428.16,114.27 428.33,113.88 428.50,113.50 428.77,112.92 429.05,112.38 429.33,111.86 429.61,111.36 429.89,110.89 430.17,110.45 430.45,110.02 430.72,109.62 430.98,109.23 431.25,108.86 431.50,108.50 431.88,107.98 432.24,107.51 432.58,107.09 432.92,106.72 433.26,106.38 433.62,106.08 434.00,105.80 434.47,105.51 434.94,105.27 435.44,105.07 435.94,104.92 436.47,104.83 437.00,104.80 437.48,104.82 437.98,104.89 438.49,105.00 439.01,105.15 439.52,105.33 440.02,105.55 440.50,105.80 440.90,106.04 441.29,106.30 441.66,106.59 442.03,106.90 442.40,107.24 442.76,107.62 443.13,108.04 443.50,108.50 443.77,108.86 444.04,109.24 444.30,109.63 444.57,110.04 444.84,110.48 445.10,110.93 445.37,111.40 445.65,111.89 445.92,112.41 446.21,112.94 446.50,113.50 446.70,113.89 446.90,114.29 447.10,114.69 447.30,115.11 447.51,115.52 447.71,115.95 447.92,116.39 448.12,116.84 448.34,117.31 448.56,117.78 448.78,118.28 449.01,118.79 449.24,119.31 449.49,119.85 449.74,120.42 450.00,121.00 450.17,121.39 450.35,121.78 450.53,122.19 450.71,122.60 450.90,123.03 451.09,123.46 451.28,123.90 451.47,124.35 451.67,124.80 451.87,125.26 452.07,125.73 452.27,126.20 452.48,126.68 452.68,127.15 452.89,127.64 453.10,128.12 453.31,128.61 453.52,129.09 453.73,129.58 453.94,130.07 454.16,130.56 454.37,131.05 454.58,131.53 454.79,132.02 455.00,132.50 455.20,132.95 455.39,133.40 455.59,133.86 455.80,134.32 456.00,134.79 456.21,135.26 456.42,135.73 456.62,136.21 456.83,136.69 457.04,137.16 457.25,137.64 457.47,138.12 457.68,138.60 457.89,139.08 458.10,139.56 458.31,140.04 458.51,140.51 458.72,140.98 458.93,141.45 459.13,141.91 459.34,142.37 459.54,142.82 459.73,143.27 459.93,143.72 460.12,144.15 460.31,144.58 460.50,145.00 460.74,145.53 460.97,146.06 461.20,146.59 461.43,147.11 461.66,147.63 461.89,148.14 462.11,148.65 462.33,149.15 462.55,149.64 462.77,150.13 462.98,150.62 463.19,151.09 463.40,151.56 463.61,152.02 463.82,152.47 464.02,152.91 464.22,153.35 464.42,153.78 464.61,154.19 464.81,154.60 465.00,155.00 465.28,155.57 465.55,156.12 465.82,156.64 466.07,157.14 466.32,157.62 466.57,158.08 466.81,158.53 467.05,158.97 467.29,159.40 467.53,159.82 467.77,160.24 468.01,160.65 468.25,161.07 468.50,161.50 468.77,161.96 469.03,162.41 469.30,162.85 469.56,163.29 469.82,163.72 470.09,164.15 470.35,164.57 470.62,164.98 470.89,165.39 471.16,165.80 471.43,166.20 471.71,166.60 472.00,167.00 472.31,167.43 472.63,167.86 472.94,168.30 473.26,168.73 473.58,169.15 473.91,169.57 474.24,169.98 474.57,170.37 474.92,170.76 475.27,171.12 475.63,171.47 476.00,171.80 476.42,172.13 476.86,172.44 477.32,172.73 477.79,173.00 478.26,173.25 478.74,173.49 479.21,173.72 479.68,173.95 480.14,174.17 480.58,174.38 481.00,174.60 481.54,174.88 482.05,175.14 482.53,175.37 483.00,175.59 483.47,175.82 483.95,176.06 484.46,176.31 485.00,176.60 485.42,176.83 485.85,177.09 486.29,177.36 486.74,177.63 487.21,177.92 487.67,178.21 488.14,178.49 488.61,178.76 489.08,179.03 489.54,179.27 490.00,179.50 490.48,179.72 490.92,179.93 491.34,180.12 491.76,180.30 492.19,180.47 492.64,180.63 493.13,180.79 493.68,180.96 494.30,181.12 495.00,181.30 495.39,181.39 495.80,181.48 496.23,181.58 496.68,181.67 497.15,181.77 497.63,181.87 498.13,181.96 498.64,182.06 499.16,182.15 499.69,182.25 500.22,182.34 500.76,182.44 501.30,182.53 501.84,182.62 502.38,182.71 502.92,182.79 503.45,182.87 503.98,182.95 504.49,183.03 505.00,183.10 505.50,183.17 506.00,183.24 506.50,183.30 507.00,183.36 507.50,183.42 508.00,183.48 508.50,183.53 509.00,183.59 509.50,183.64 510.00,183.69 510.50,183.74 511.00,183.78 511.50,183.83 512.00,183.87 512.50,183.91 513.00,183.95 513.50,183.99 514.00,184.03 514.50,184.06 515.00,184.10 515.50,184.13 516.00,184.16 516.50,184.19 517.00,184.22 517.50,184.24 518.00,184.26 518.50,184.28 519.00,184.30 519.50,184.32 520.00,184.33 520.50,184.35 521.00,184.36 521.50,184.38 522.00,184.39 522.50,184.41 523.00,184.42 523.50,184.44 524.00,184.46 524.50,184.48 525.00,184.50 525.50,184.52 526.01,184.55 526.51,184.57 527.02,184.60 527.54,184.63 528.05,184.66 528.56,184.69 529.07,184.72 529.58,184.75 530.09,184.78 530.60,184.80 531.11,184.83 531.61,184.86 532.11,184.88 532.61,184.91 533.10,184.93 533.58,184.95 534.06,184.97 534.53,184.99 535.00,185.00 535.55,185.01 536.12,185.02 536.70,185.03 537.28,185.03 537.87,185.04 538.45,185.04 539.03,185.04 539.60,185.03 540.15,185.03 540.68,185.02 541.19,185.02 541.67,185.02 542.12,185.01 542.53,185.01 542.90,185.00 543.22,185.00 543.50,185.00" fill="none" stroke="#ff0000" stroke-width="2.0" stroke-linejoin="round"/>
<polyline points="362.00,174.20 362.28,174.21 362.60,174.23 362.98,174.26 363.39,174.29 363.84,174.32 364.33,174.35 364.84,174.39 365.38,174.42 365.93,174.45 366.50,174.48 367.08,174.50 367.67,174.52 368.26,174.53 368.85,174.53 369.43,174.52 370.00,174.50 370.46,174.48 370.94,174.45 371.44,174.41 371.95,174.37 372.48,174.33 373.01,174.28 373.55,174.23 374.10,174.18 374.64,174.12 375.19,174.06 375.73,173.99 376.26,173.93 376.79,173.86 377.30,173.80 377.80,173.73 378.29,173.66 378.75,173.59 379.19,173.53 379.61,173.46 380.00,173.40 380.70,173.27 381.32,173.14 381.87,173.00 382.36,172.86 382.81,172.71 383.24,172.57 383.66,172.42 384.08,172.28 384.52,172.14 385.00,172.00 385.50,171.87 386.00,171.74 386.50,171.61 387.00,171.48 387.50,171.36 388.00,171.23 388.50,171.10 389.00,170.97 389.50,170.84 390.00,170.70 390.50,170.56 391.00,170.43 391.50,170.29 392.00,170.16 392.50,170.02 393.00,169.87 393.50,169.72 394.00,169.56 394.50,169.39 395.00,169.20 395.46,169.02 395.94,168.82 396.42,168.61 396.90,168.39 397.39,168.16 397.86,167.93 398.33,167.70 398.78,167.47 399.21,167.24 399.62,167.02 400.00,166.80 400.54,166.47 401.03,166.14 401.48,165.81 401.89,165.48 402.27,165.15 402.64,164.83 403.00,164.50 403.38,164.14 403.70,163.80 404.00,163.47 404.30,163.11 404.62,162.69 405.00,162.20 405.26,161.86 405.54,161.48 405.84,161.07 406.15,160.65 406.47,160.21 406.79,159.76 407.11,159.31 407.42,158.86 407.72,158.42 408.00,158.00 408.30,157.55 408.59,157.11 408.87,156.67 409.15,156.24 409.42,155.80 409.69,155.36 409.95,154.92 410.22,154.47 410.50,154.00 410.75,153.57 411.01,153.14 411.27,152.70 411.52,152.26 411.78,151.81 412.04,151.36 412.29,150.90 412.53,150.44 412.77,149.97 413.00,149.50 413.21,149.04 413.41,148.60 413.59,148.18 413.76,147.75 413.94,147.31 414.12,146.85 414.31,146.35 414.51,145.80 414.74,145.18 415.00,144.50 415.14,144.13 415.29,143.74 415.44,143.33 415.60,142.90 415.76,142.46 415.93,142.01 416.10,141.55 416.27,141.07 416.45,140.59 416.63,140.09 416.81,139.59 417.00,139.09 417.19,138.58 417.37,138.07 417.56,137.55 417.75,137.04 417.94,136.52 418.13,136.01 418.31,135.50 418.50,135.00 418.67,134.54 418.85,134.06 419.03,133.57 419.21,133.07 419.39,132.56 419.58,132.05 419.77,131.53 419.96,131.00 420.15,130.48 420.34,129.96 420.53,129.44 420.72,128.92 420.91,128.42 421.09,127.92 421.27,127.43 421.45,126.96 421.62,126.50 421.79,126.06 421.95,125.63 422.11,125.23 422.26,124.85 422.40,124.50 422.69,123.82 422.94,123.26 423.16,122.79 423.36,122.39 423.56,122.03 423.74,121.69 423.93,121.34 424.14,120.96 424.36,120.52 424.60,120.00 424.78,119.60 424.96,119.18 425.15,118.74 425.35,118.27 425.55,117.80 425.75,117.31 425.96,116.81 426.17,116.31 426.38,115.81 426.59,115.31 426.79,114.82 427.00,114.34 427.20,113.88 427.40,113.43 427.60,113.00 427.84,112.48 428.08,111.97 428.32,111.47 428.56,110.97 428.79,110.49 429.02,110.02 429.26,109.56 429.49,109.11 429.72,108.69 429.95,108.27 430.17,107.88 430.40,107.50 430.73,106.97 431.04,106.47 431.34,106.01 431.64,105.58 431.95,105.19 432.27,104.83 432.62,104.50 433.00,104.20 433.48,103.90 434.00,103.63 434.55,103.41 435.12,103.24 435.69,103.11 436.25,103.03 436.80,103.00 437.34,103.03 437.89,103.11 438.44,103.24 438.98,103.41 439.51,103.63 440.02,103.90 440.50,104.20 440.90,104.50 441.28,104.83 441.64,105.19 441.99,105.58 442.33,106.01 442.66,106.47 442.98,106.97 443.30,107.50 443.53,107.91 443.74,108.35 443.95,108.80 444.16,109.27 444.36,109.77 444.56,110.27 444.76,110.80 444.96,111.33 445.16,111.88 445.38,112.44 445.60,113.00 445.76,113.41 445.92,113.82 446.08,114.22 446.24,114.63 446.40,115.04 446.56,115.45 446.72,115.88 446.88,116.31 447.06,116.77 447.24,117.24 447.43,117.74 447.63,118.26 447.84,118.80 448.06,119.39 448.30,120.00 448.45,120.39 448.61,120.79 448.77,121.20 448.94,121.63 449.12,122.06 449.29,122.51 449.48,122.97 449.66,123.44 449.85,123.91 450.05,124.39 450.24,124.88 450.44,125.38 450.64,125.88 450.84,126.38 451.04,126.89 451.24,127.40 451.44,127.91 451.64,128.43 451.84,128.94 452.04,129.46 452.24,129.97 452.43,130.48 452.62,130.99 452.81,131.50 453.00,132.00 453.17,132.47 453.34,132.94 453.51,133.42 453.68,133.90 453.85,134.39 454.02,134.88 454.19,135.37 454.35,135.87 454.52,136.37 454.69,136.87 454.86,137.37 455.02,137.87 455.19,138.37 455.36,138.87 455.52,139.37 455.69,139.87 455.86,140.36 456.02,140.85 456.19,141.34 456.35,141.82 456.52,142.29 456.68,142.76 456.85,143.23 457.01,143.68 457.17,144.13 457.34,144.57 457.50,145.00 457.71,145.54 457.92,146.08 458.13,146.61 458.35,147.14 458.56,147.65 458.78,148.16 458.99,148.67 459.20,149.16 459.41,149.65 459.63,150.14 459.84,150.61 460.04,151.08 460.25,151.54 460.46,152.00 460.66,152.45 460.86,152.89 461.05,153.33 461.25,153.76 461.43,154.18 461.62,154.59 461.80,155.00 462.04,155.55 462.27,156.08 462.49,156.59 462.71,157.08 462.91,157.56 463.11,158.02 463.31,158.47 463.50,158.91 463.70,159.34 463.90,159.78 464.10,160.21 464.31,160.65 464.53,161.09 464.76,161.54 465.00,162.00 465.23,162.44 465.47,162.88 465.71,163.31 465.96,163.75 466.21,164.19 466.47,164.63 466.73,165.07 466.99,165.51 467.25,165.94 467.52,166.38 467.79,166.82 468.07,167.26 468.35,167.69 468.63,168.13 468.91,168.57 469.20,169.00 469.47,169.41 469.75,169.83 470.03,170.26 470.32,170.69 470.60,171.12 470.89,171.55 471.19,171.98 471.48,172.41 471.78,172.83 472.08,173.25 472.38,173.66 472.68,174.06 472.99,174.46 473.29,174.84 473.59,175.21 473.90,175.56 474.20,175.90 474.60,176.32 475.00,176.73 475.40,177.11 475.80,177.49 476.21,177.84 476.61,178.18 477.02,178.51 477.43,178.82 477.84,179.12 478.26,179.41 478.67,179.69 479.08,179.95 479.50,180.20 479.98,180.48 480.43,180.72 480.86,180.94 481.30,181.14 481.73,181.33 482.18,181.50 482.66,181.66 483.17,181.82 483.72,181.97 484.33,182.13 485.00,182.30 485.40,182.39 485.82,182.49 486.26,182.58 486.71,182.67 487.18,182.76 487.67,182.86 488.17,182.94 488.68,183.03 489.19,183.12 489.72,183.21 490.25,183.29 490.78,183.38 491.32,183.46 491.86,183.54 492.39,183.62 492.93,183.70 493.46,183.78 493.98,183.85 494.49,183.93 495.00,184.00 495.50,184.07 496.00,184.14 496.50,184.21 497.00,184.28 497.50,184.34 498.00,184.41 498.50,184.47 499.00,184.54 499.50,184.60 500.00,184.66 500.50,184.72 501.00,184.77 501.50,184.83 502.00,184.89 502.50,184.94 503.00,184.99 503.50,185.05 504.00,185.10 504.50,185.15 505.00,185.20 505.50,185.25 506.00,185.30 506.50,185.35 507.00,185.40 507.50,185.44 508.00,185.49 508.50,185.53 509.00,185.58 509.50,185.62 510.00,185.66 510.50,185.70 511.00,185.74 511.50,185.78 512.00,185.82 512.50,185.85 513.00,185.88 513.50,185.92 514.00,185.95 514.50,185.97 515.00,186.00 515.50,186.02 516.00,186.05 516.50,186.07 517.00,186.08 517.50,186.10 518.00,186.12 518.50,186.13 519.00,186.14 519.50,186.15 520.00,186.16 520.50,186.17 521.00,186.18 521.50,186.18 522.00,186.19 522.50,186.19 523.00,186.20 523.50,186.20 524.00,186.20 524.50,186.20 525.00,186.20 525.50,186.20 526.01,186.20 526.51,186.19 527.02,186.19 527.54,186.19 528.05,186.18 528.56,186.17 529.07,186.16 529.58,186.15 530.09,186.14 530.60,186.13 531.11,186.12 531.61,186.11 532.11,186.09 532.61,186.08 533.10,186.07 533.58,186.05 534.06,186.03 534.53,186.02 535.00,186.00 535.55,185.98 536.12,185.95 536.70,185.92 537.28,185.89 537.87,185.86 538.45,185.83 539.03,185.79 539.60,185.76 540.15,185.72 540.68,185.69 541.19,185.65 541.67,185.62 542.12,185.59 542.53,185.56 542.90,185.54 543.22,185.52 543.50,185.50" fill="none" stroke="#0000ff" stroke-width="2.0" stroke-linejoin="round"/>
<path d="M361.8,34.60 V211.3" stroke="#222222" stroke-width="1.2" fill="none"/>
<path d="M361.2,211.3 H543.5" stroke="#222222" stroke-width="1.4" fill="none"/>
<path d="M358.20,211.30 H361.8" stroke="#222222" stroke-width="1.2"/>
<g font-family='"Liberation Sans", sans-serif' font-size="11.5" fill="#111111" stroke="#111111" stroke-width="0.25"><text transform="translate(351.50,215.70) scale(0.995,1)" x="-3.20">0</text></g>
<path d="M358.20,175.96 H361.8" stroke="#222222" stroke-width="1.2"/>
<g font-family='"Liberation Sans", sans-serif' font-size="11.5" fill="#111111" stroke="#111111" stroke-width="0.25"><text transform="translate(351.59,180.36) scale(0.950,1)" x="-3.36">1</text></g>
<path d="M358.20,140.62 H361.8" stroke="#222222" stroke-width="1.2"/>
<g font-family='"Liberation Sans", sans-serif' font-size="11.5" fill="#111111" stroke="#111111" stroke-width="0.25"><text transform="translate(351.35,145.02) scale(0.959,1)" x="-3.20">2</text></g>
<path d="M358.20,105.28 H361.8" stroke="#222222" stroke-width="1.2"/>
<g font-family='"Liberation Sans", sans-serif' font-size="11.5" fill="#111111" stroke="#111111" stroke-width="0.25"><text transform="translate(351.48,109.68) scale(0.955,1)" x="-3.16">3</text></g>
<path d="M358.20,69.94 H361.8" stroke="#222222" stroke-width="1.2"/>
<g font-family='"Liberation Sans", sans-serif' font-size="11.5" fill="#111111" stroke="#111111" stroke-width="0.25"><text transform="translate(351.46,74.34) scale(0.995,1)" x="-3.16">4</text></g>
<path d="M358.20,34.60 H361.8" stroke="#222222" stroke-width="1.2"/>
<g font-family='"Liberation Sans", sans-serif' font-size="11.5" fill="#111111" stroke="#111111" stroke-width="0.25"><text transform="translate(351.44,39.00) scale(0.939,1)" x="-3.19">5</text></g>
<path d="M362.00,211.3 V214.9" stroke="#222222" stroke-width="1.2"/>
<g font-family='"Liberation Sans", sans-serif' font-size="11.5" fill="#111111" stroke="#111111" stroke-width="0.25"><text transform="translate(361.94,227.40) scale(0.939,1)" x="-3.19">5</text></g>
<path d="M431.65,211.3 V214.9" stroke="#222222" stroke-width="1.2"/>
<g font-family='"Liberation Sans", sans-serif' font-size="11.5" fill="#111111" stroke="#111111" stroke-width="0.25"><text transform="translate(428.29,227.40) scale(0.950,1)" x="-3.36">1</text><text transform="translate(435.10,227.40) scale(0.995,1)" x="-3.20">0</text></g>
<path d="M501.30,211.3 V214.9" stroke="#222222" stroke-width="1.2"/>
<g font-family='"Liberation Sans", sans-serif' font-size="11.5" fill="#111111" stroke="#111111" stroke-width="0.25"><text transform="translate(497.94,227.40) scale(0.950,1)" x="-3.36">1</text><text transform="translate(504.70,227.40) scale(0.939,1)" x="-3.19">5</text></g>
<g font-family='"Liberation Sans", sans-serif' font-size="11.5" fill="#111111" stroke="#111111" stroke-width="0.25"><text transform="translate(415.08,242.30) scale(0.850,1)" x="-3.75">F</text><text transform="translate(419.91,242.30) scale(1.209,1)" x="-2.20">r</text><text transform="translate(424.76,242.30) scale(1.019,1)" x="-3.19">e</text><text transform="translate(431.34,242.30) scale(1.024,1)" x="-3.07">q</text><text transform="translate(438.38,242.30) scale(1.017,1)" x="-3.19">u</text><text transform="translate(445.20,242.30) scale(1.019,1)" x="-3.19">e</text><text transform="translate(452.00,242.30) scale(1.017,1)" x="-3.21">n</text><text transform="translate(458.35,242.30) scale(0.947,1)" x="-2.97">c</text><text transform="translate(464.58,242.30) scale(1.013,1)" x="-2.88">y</text><text transform="translate(473.39,242.30) scale(0.850,1)" x="-2.24">(</text><text transform="translate(479.55,242.30) scale(0.939,1)" x="-4.16">H</text><text transform="translate(486.48,242.30) scale(1.011,1)" x="-2.82">z</text><text transform="translate(491.41,242.30) scale(0.850,1)" x="-1.59">)</text></g>
<g font-family='"Liberation Sans", sans-serif' font-size="11.5" fill="#111111" stroke="#111111" stroke-width="0.25"><text transform="translate(340.40,181.87) rotate(-90) scale(0.932,1)" x="-4.16">N</text><text transform="translate(340.40,174.49) rotate(-90) scale(1.003,1)" x="-3.20">o</text><text transform="translate(340.40,168.45) rotate(-90) scale(1.209,1)" x="-2.20">r</text><text transform="translate(340.40,161.59) rotate(-90) scale(1.075,1)" x="-4.79">m</text><text transform="translate(340.40,154.62) rotate(-90) scale(1.021,1)" x="-1.60">.</text><text transform="translate(340.40,146.28) rotate(-90) scale(0.850,1)" x="-3.44">a</text><text transform="translate(340.40,137.47) rotate(-90) scale(1.075,1)" x="-4.79">m</text><text transform="translate(340.40,128.58) rotate(-90) scale(1.026,1)" x="-3.33">p</text><text transform="translate(340.40,123.82) rotate(-90) scale(0.964,1)" x="-1.28">l</text><text transform="translate(340.40,120.81) rotate(-90) scale(0.964,1)" x="-1.27">i</text><text transform="translate(340.40,117.16) rotate(-90) scale(1.250,1)" x="-1.64">t</text><text transform="translate(340.40,111.64) rotate(-90) scale(1.017,1)" x="-3.19">u</text><text transform="translate(340.40,104.92) rotate(-90) scale(1.025,1)" x="-3.07">d</text><text transform="translate(340.40,97.94) rotate(-90) scale(1.019,1)" x="-3.19">e</text><text transform="translate(340.40,89.01) rotate(-90) scale(0.850,1)" x="-2.24">(</text><text transform="translate(340.40,83.77) rotate(-90) scale(0.850,1)" x="-3.44">a</text><text transform="translate(340.40,78.56) rotate(-90) scale(1.021,1)" x="-1.60">.</text><text transform="translate(340.40,73.42) rotate(-90) scale(1.017,1)" x="-3.19">u</text><text transform="translate(340.40,68.23) rotate(-90) scale(1.021,1)" x="-1.60">.</text><text transform="translate(340.40,64.42) rotate(-90) scale(0.850,1)" x="-1.59">)</text></g>
<path d="M398.8,47.2 H418.8" stroke="#ff0000" stroke-width="1.8"/>
<path d="M398.8,61.2 H418.8" stroke="#0000ff" stroke-width="1.8"/>
<g font-family='"Liberation Sans", sans-serif' font-size="9.85" fill="#111111" stroke="#111111" stroke-width="0.25"><text transform="translate(428.00,50.70) scale(0.913,1)" x="-3.56">N</text><text transform="translate(434.21,50.70) scale(0.850,1)" x="-3.22">F</text><text transform="translate(442.26,50.70) scale(1.004,1)" x="-2.63">d</text><text transform="translate(447.96,50.70) scale(0.850,1)" x="-2.95">a</text><text transform="translate(453.58,50.70) scale(0.992,1)" x="-2.46">y</text><text transform="translate(459.25,50.70) scale(0.930,1)" x="-2.87">1</text><text transform="translate(463.70,50.70) scale(0.996,1)" x="-1.64">-</text><text transform="translate(468.40,50.70) scale(1.005,1)" x="-2.85">p</text><text transform="translate(473.41,50.70) scale(1.184,1)" x="-1.89">r</text><text transform="translate(477.47,50.70) scale(0.998,1)" x="-2.73">e</text><text transform="translate(486.21,50.70) scale(1.005,1)" x="-2.85">b</text><text transform="translate(491.58,50.70) scale(0.850,1)" x="-2.95">a</text><text transform="translate(496.90,50.70) scale(0.886,1)" x="-2.42">s</text><text transform="translate(502.06,50.70) scale(0.998,1)" x="-2.73">e</text><text transform="translate(506.11,50.70) scale(0.944,1)" x="-1.10">l</text><text transform="translate(508.64,50.70) scale(0.944,1)" x="-1.09">i</text><text transform="translate(512.81,50.70) scale(0.996,1)" x="-2.75">n</text><text transform="translate(518.48,50.70) scale(0.998,1)" x="-2.73">e</text></g>
<g font-family='"Liberation Sans", sans-serif' font-size="9.85" fill="#111111" stroke="#111111" stroke-width="0.25"><text transform="translate(427.53,64.00) scale(0.850,1)" x="-3.28">S</text><text transform="translate(433.29,64.00) scale(1.003,1)" x="-2.76">h</text><text transform="translate(438.79,64.00) scale(0.850,1)" x="-2.95">a</text><text transform="translate(446.18,64.00) scale(1.053,1)" x="-4.10">m</text><text transform="translate(456.20,64.00) scale(1.004,1)" x="-2.63">d</text><text transform="translate(461.90,64.00) scale(0.850,1)" x="-2.95">a</text><text transform="translate(467.52,64.00) scale(0.992,1)" x="-2.46">y</text><text transform="translate(473.19,64.00) scale(0.930,1)" x="-2.87">1</text><text transform="translate(477.65,64.00) scale(0.996,1)" x="-1.64">-</text><text transform="translate(482.34,64.00) scale(1.005,1)" x="-2.85">p</text><text transform="translate(487.35,64.00) scale(1.184,1)" x="-1.89">r</text><text transform="translate(491.41,64.00) scale(0.998,1)" x="-2.73">e</text><text transform="translate(500.15,64.00) scale(1.005,1)" x="-2.85">b</text><text transform="translate(505.52,64.00) scale(0.850,1)" x="-2.95">a</text><text transform="translate(510.85,64.00) scale(0.886,1)" x="-2.42">s</text><text transform="translate(516.00,64.00) scale(0.998,1)" x="-2.73">e</text><text transform="translate(520.06,64.00) scale(0.944,1)" x="-1.10">l</text><text transform="translate(522.58,64.00) scale(0.944,1)" x="-1.09">i</text><text transform="translate(526.76,64.00) scale(0.996,1)" x="-2.75">n</text><text transform="translate(532.42,64.00) scale(0.998,1)" x="-2.73">e</text></g>
</svg>
</body></html>
